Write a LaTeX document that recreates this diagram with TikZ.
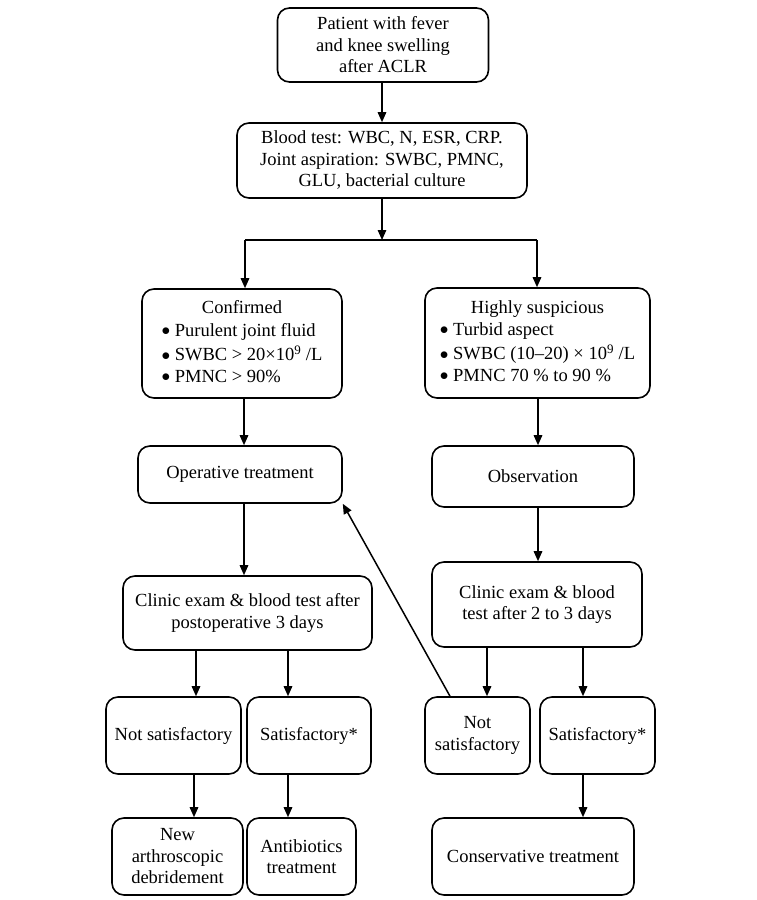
\documentclass[tikz,border=0pt]{standalone}
\usepackage{fontspec}
\setmainfont{Liberation Serif}
\usetikzlibrary{arrows.meta,positioning}
\newcommand{\bul}{\raisebox{0.5pt}{$\bullet$}\ }
\begin{document}
\begin{tikzpicture}[x=1pt,y=-1pt,
  box/.style={draw,line width=1.6pt,rounded corners=12pt,align=center,inner sep=2pt,
    font=\fontsize{18.5}{21.5}\selectfont},
  arr/.style={line width=1.5pt,-{Triangle[length=10pt,width=8.5pt]}},
  lin/.style={line width=1.5pt}]
\useasboundingbox (0,0) rectangle (756,900);
\node[box,minimum width=211pt,minimum height=74pt] (b1) at (383,45) {Patient with fever\\and knee swelling\\after ACLR};
\node[box,minimum width=290pt,minimum height=75pt] (b2) at (382,160.5) {Blood test: WBC, N, ESR, CRP.\\Joint aspiration: SWBC, PMNC,\\GLU, bacterial culture};
\coordinate (split) at (382,240);
\node[box,minimum width=200pt,minimum height=109pt] (conf) at (242,343.5) {\begin{tabular}{@{}l@{}}\multicolumn{1}{c}{Confirmed}\\[1pt] \bul Purulent joint fluid\\[3pt] \bul SWBC > 20×10\textsuperscript{9} /L\\ \bul PMNC > 90\%\end{tabular}};
\node[box,minimum width=225pt,minimum height=110pt] (hs) at (537.5,343) {\begin{tabular}{@{}l@{}}\multicolumn{1}{c}{Highly suspicious}\\ \bul Turbid aspect\\[3pt] \bul SWBC (10–20) × 10\textsuperscript{9} /L\\ \bul PMNC 70 \% to 90 \%\end{tabular}};
\node[box,minimum width=204pt,minimum height=57pt] (op) at (240,474.5) {Operative treatment};
\node[box,minimum width=202pt,minimum height=61pt] (obs) at (533,476.5) {Observation};
\node[box,minimum width=249pt,minimum height=74pt] (cl) at (247.5,613) {Clinic exam \& blood test after\\postoperative 3 days};
\node[box,minimum width=210pt,minimum height=85pt] (cr) at (537,604.5) {Clinic exam \& blood\\test after 2 to 3 days};
\node[box,minimum width=135pt,minimum height=77pt] (nsl) at (173.5,735.5) {Not satisfactory};
\node[box,minimum width=124pt,minimum height=77pt] (sl) at (309,735.5) {Satisfactory*};
\node[box,minimum width=105pt,minimum height=77pt] (nsr) at (477.5,735.5) {Not\\satisfactory};
\node[box,minimum width=115pt,minimum height=77pt] (sr) at (597.5,735.5) {Satisfactory*};
\node[box,minimum width=131pt,minimum height=77pt] (new) at (177.5,856.5) {New\\arthroscopic\\debridement};
\node[box,minimum width=109pt,minimum height=77pt] (ab) at (301.5,856.5) {Antibiotics\\treatment};
\node[box,minimum width=202pt,minimum height=77pt] (cons) at (533,856.5) {Conservative treatment};
\draw[arr] (b1.south -| 382,0) -- (b2.north -| 382,0);
\draw[arr] (b2.south) -- (split);
\draw[lin] (split -| 245,0) -- (split -| 537,0);
\draw[arr] (split -| 245,0) -- (conf.north -| 245,0);
\draw[arr] (split -| 537,0) -- (hs.north -| 537,0);
\draw[arr] (conf.south -| 244,0) -- (op.north -| 244,0);
\draw[arr] (op.south -| 244,0) -- (cl.north -| 244,0);
\draw[arr] (cl.south -| 196,0) -- (nsl.north -| 196,0);
\draw[arr] (cl.south -| 288,0) -- (sl.north -| 288,0);
\draw[arr] (nsl.south -| 194,0) -- (new.north -| 194,0);
\draw[arr] (sl.south -| 288,0) -- (ab.north -| 288,0);
\draw[arr] (hs.south -| 538,0) -- (obs.north -| 538,0);
\draw[arr] (obs.south -| 538,0) -- (cr.north -| 538,0);
\draw[arr] (cr.south -| 487,0) -- (nsr.north -| 487,0);
\draw[arr] (cr.south -| 583,0) -- (sr.north -| 583,0);
\draw[arr] (sr.south -| 583,0) -- (cons.north -| 583,0);
\draw[arr] (nsr.north -| 450,0) -- (op.south east);
\end{tikzpicture}
\end{document}
